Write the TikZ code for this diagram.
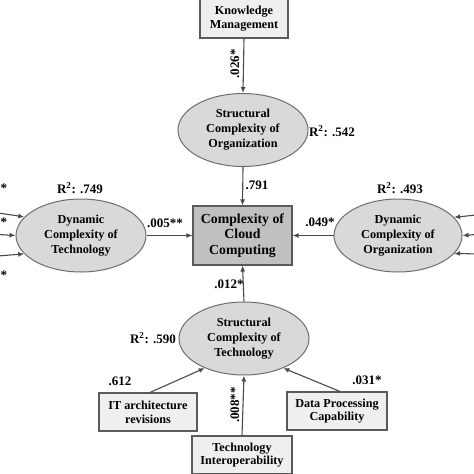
\documentclass[tikz,border=0pt]{standalone}
\usepackage{fontspec}
\setmainfont{Liberation Serif}
\usetikzlibrary{shapes.geometric,arrows.meta}
\definecolor{ellfill}{HTML}{D9D9D9}
\definecolor{ellline}{HTML}{6E6E6E}
\definecolor{boxfill}{HTML}{EFEFEF}
\definecolor{boxline}{HTML}{5A5A5A}
\definecolor{mainfill}{HTML}{C0C0C0}
\definecolor{conn}{HTML}{4A4A4A}
\tikzset{
  latent/.style={ellipse, draw=ellline, fill=ellfill, line width=1pt, inner sep=0pt,
    minimum width=130pt, minimum height=73pt, align=center,
    font=\fontsize{12.2}{15}\selectfont\bfseries},
  indicator/.style={rectangle, draw=boxline, fill=boxfill, line width=1.1pt, inner sep=0pt,
    minimum width=98pt, minimum height=38pt, align=center,
    font=\fontsize{12.2}{13.8}\selectfont\bfseries},
  mainbox/.style={rectangle, draw=boxline, fill=mainfill, line width=1.1pt, inner sep=0pt,
    minimum width=99pt, minimum height=59pt, align=center,
    font=\fontsize{13.8}{15.5}\selectfont\bfseries},
  lbl/.style={inner sep=0pt, font=\fontsize{13}{14}\selectfont\bfseries},
  path/.style={draw=conn, line width=1.1pt, -{Latex[length=6pt,width=5pt]}}
}
\begin{document}
\begin{tikzpicture}[x=1pt,y=-1pt]
\useasboundingbox (0,0) rectangle (474,474);
\fill[white] (0,0) rectangle (474,474);

% nodes
\node[indicator, minimum width=88pt, minimum height=39pt] (km) at (244,18.5) {Knowledge\\Management};
\node[latent] (sco) at (243,130) {Structural\\Complexity of\\Organization};
\node[mainbox] (ccc) at (242.5,235.5) {Complexity of\\Cloud\\Computing};
\node[latent] (dct) at (81,235.5) {Dynamic\\Complexity of\\Technology};
\node[latent, minimum width=128pt] (dco) at (398,235.5) {Dynamic\\Complexity of\\Organization};
\node[latent] (sct) at (244,338.5) {Structural\\Complexity of\\Technology};
\node[indicator] (ita) at (148,412) {IT architecture\\revisions};
\node[indicator, minimum width=100pt] (ti) at (242,455) {Technology\\Interoperability};
\node[indicator, minimum width=100pt] (dpc) at (337,411) {Data Processing\\Capability};

% R squared
\node[lbl] (r1) at (332,131) {R\textsuperscript{2}: .542};
\node[lbl] (r2) at (80,188) {R\textsuperscript{2}: .749};
\node[lbl] (r3) at (400,188) {R\textsuperscript{2}: .493};
\node[lbl] (r4) at (153,338) {R\textsuperscript{2}: .590};

% connectors
\draw[path] (km.south) -- (sco.north);
\draw[path] (sco.south) -- (ccc.north);
\draw[path] (dct.east) -- (ccc.west);
\draw[path] (dco.west) -- (ccc.east);
\draw[path] (sct.north) -- (ccc.south);
\draw[path] ([xshift=2pt]ita.north) -- (sct.217);
\draw[path] (ti.north) -- (sct.south);
\draw[path] ([xshift=3pt]dpc.north) -- (sct.323);

% path labels
\node[lbl, rotate=90] (l1) at (235,64) {.026*};
\node[lbl] (l2) at (257,185) {.791};
\node[lbl] (l3) at (165,223) {.005**};
\node[lbl] (l4) at (320,222) {.049*};
\node[lbl] (l5) at (229,284) {.012*};
\node[lbl] (l6) at (120,381) {.612};
\node[lbl] (l7) at (367,380) {.031*};
\node[lbl, rotate=90] (l8) at (235,405) {.008**};

% incoming arrows from outside the frame (left)
\coordinate (la) at (-2,213);
\coordinate (lb) at (-2,234.5);
\coordinate (lc) at (-2,256);
\draw[path] (la) .. controls (8,214) .. (dct.162);
\draw[path] (lb) -- (dct.west);
\draw[path] (lc) .. controls (8,255) .. (dct.198);
\node[lbl, anchor=west] (s1) at (0.5,188) {*};
\node[lbl, anchor=west] (s2) at (0.5,222) {*};
\node[lbl, anchor=west] (s3) at (0.5,275) {*};

% incoming arrows from outside the frame (right)
\coordinate (ra) at (476,215);
\coordinate (rb) at (476,234.5);
\coordinate (rc) at (476,254);
\draw[path] (ra) .. controls (468,216) .. (dco.18);
\draw[path] (rb) -- (dco.east);
\draw[path] (rc) .. controls (468,253) .. (dco.342);
\end{tikzpicture}
\end{document}
